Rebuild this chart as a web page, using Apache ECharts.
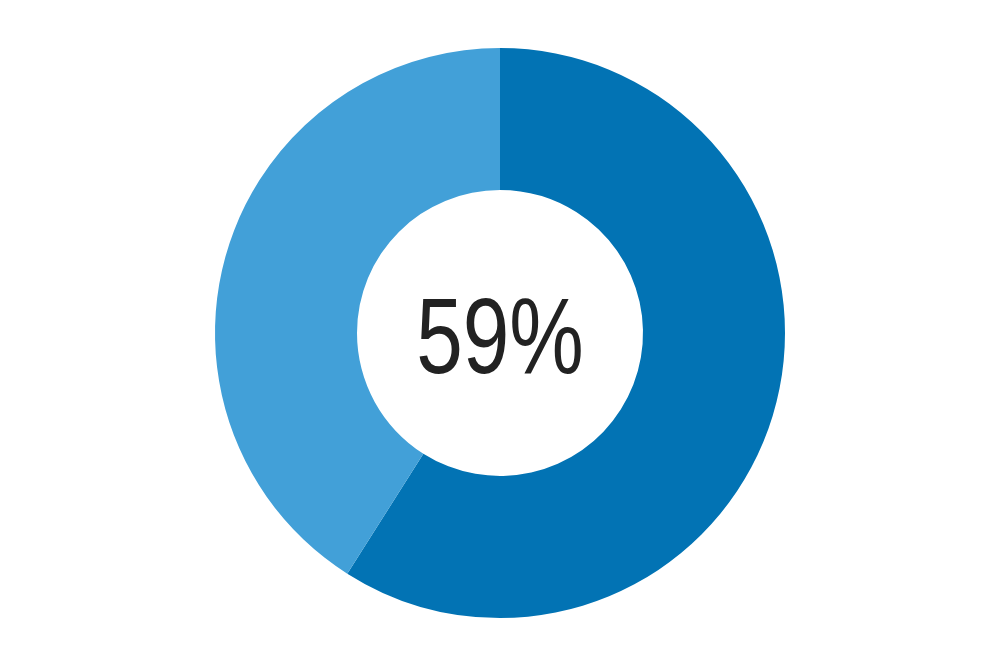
<!DOCTYPE html>
<html><head><meta charset="utf-8">
<script src="https://cdn.jsdelivr.net/npm/echarts@6/dist/echarts.min.js"></script>
<style>html,body{margin:0;padding:0;background:#fff}#c{width:1000px;height:667px}</style>
</head><body><div id="c"></div>
<script>
const categories = ['Yes', 'No'];
const values = [59, 41];
const centerLabel = '59%';
const colors = ['#0273b4', '#42a0d8'];

const chart = echarts.init(document.getElementById('c'), null, {renderer: 'canvas'});
chart.setOption({
  animation: false,
  graphic: [{
    type: 'text',
    x: 500,
    y: 343,
    scaleX: 0.775,
    style: {
      x: 0,
      y: 0,
      text: centerLabel,
      font: '108px "Liberation Sans", Arial, sans-serif',
      fill: '#222222',
      textAlign: 'center',
      textVerticalAlign: 'middle'
    },
    z: 10
  }],
  series: [{
    type: 'pie',
    center: [500, 333],
    radius: [143, 285],
    startAngle: 90,
    clockwise: true,
    label: {show: false},
    labelLine: {show: false},
    itemStyle: {borderWidth: 0},
    emphasis: {disabled: true},
    data: categories.map((c, i) => ({name: c, value: values[i], itemStyle: {color: colors[i]}}))
  }]
});
</script></body></html>
